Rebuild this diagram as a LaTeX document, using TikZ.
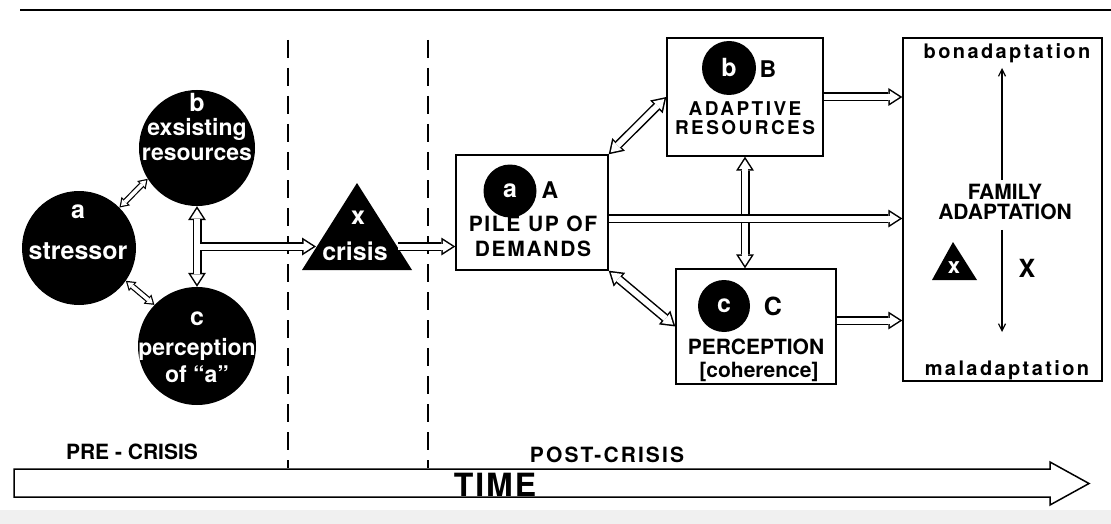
\documentclass[tikz,border=0pt]{standalone}
\usepackage{fontspec}
\setmainfont{TeX Gyre Heros}
\usetikzlibrary{arrows.meta,positioning,calc}

\newcommand{\fsz}[2]{\fontsize{#1}{#2}\selectfont}

\tikzset{
  hbig/.tip={Triangle[length=14pt,width=18pt,line width=0pt]},
  hbin/.tip={Triangle[length=9.7pt,width=12.5pt,line width=0pt]},
  hsm/.tip={Triangle[length=9pt,width=12pt,line width=0pt]},
  hsmin/.tip={Triangle[length=5.6pt,width=7.5pt,line width=0pt]},
  hollow/.style={line width=9pt, -{hbig},
    postaction={draw=white, line width=6pt, shorten >=2.8pt, -{hbin}}},
  hollowtwo/.style={line width=9pt, {hbig}-{hbig},
    postaction={draw=white, line width=6pt, shorten >=2.8pt, shorten <=2.8pt, {hbin}-{hbin}}},
  hollowsm/.style={line width=6pt, {hsm}-{hsm},
    postaction={draw=white, line width=3.6pt, shorten >=2.2pt, shorten <=2.2pt, {hsmin}-{hsmin}}},
  thinar/.style={line width=1.2pt, -{Straight Barb[length=7pt,width=7pt]}},
  period/.style={line width=1.6pt, dash pattern=on 18pt off 10pt},
  ball/.style={circle, fill=black, inner sep=0pt},
  box/.style={draw, line width=1.4pt, inner sep=0pt},
  wtxt/.style={text=white, inner sep=0pt, font=\bfseries\fsz{#1}{#1}},
  wtxt/.default=23,
  btxt/.style={inner sep=0pt, align=center, font=\bfseries\fsz{#1}{#1}},
  btxt/.default=21,
}

\begin{document}
\begin{tikzpicture}[x=1pt, y=-1pt]
\useasboundingbox (0,0) rectangle (1111,524);
% scan edge and top rule
\fill[gray!12] (0,510) rectangle (1111,524);
\draw[line width=1.2pt] (20,10) -- (1111,10);
% crisis period borders
\draw[period] (288,40) -- (288,468);
\draw[period] (428,40) -- (428,468);

% pre-crisis circles
\node[ball, minimum size=114pt] (stress) at (79,248) {};
\node[ball, minimum size=116pt] (exres) at (197,148) {};
\node[ball, minimum size=118pt] (perc) at (197,346) {};
\node[wtxt=25] (stressa) at (78,212) {a};
\node[wtxt=25] (stressl) at (78,251) {stressor};
\node[wtxt=25] (exresb) at (197,103) {b};
\node[wtxt] (exresl) at (197,129) {exsisting};
\node[wtxt] (exresm) at (197,154) {resources};
\node[wtxt=25] (percc) at (197,319) {c};
\node[wtxt] (percl) at (197,349) {perception};
\node[wtxt] (percm) at (197,374) {of “a”};

% crisis triangle
\coordinate (crtop) at (357,183);
\fill (crtop) -- (412,270) -- (302,270) -- cycle;
\node[wtxt=25] (crisx) at (358,218) {x};
\node[wtxt=25] (crisl) at (355,251) {crisis};

% post-crisis boxes
\node[box, minimum width=152pt, minimum height=115pt] (pile) at (532,212.5) {};
\node[ball, wtxt=25, minimum size=53pt] (pilea) at (510,191) {a};
\node[btxt=23] (pileA) at (550,190) {A};
\node[btxt, font=\bfseries\fsz{21}{25}\addfontfeatures{LetterSpace=8}] (pilel) at (533,236) {PILE UP OF\\DEMANDS};

\node[box, minimum width=156pt, minimum height=118pt] (adres) at (745,97) {};
\node[ball, wtxt=25, minimum size=54pt] (adresb) at (729,68) {b};
\node[btxt=23] (adresB) at (768,69) {B};
\node[btxt, font=\bfseries\fsz{19}{18.5}\addfontfeatures{LetterSpace=13}] (adresl) at (745,118) {ADAPTIVE\\RESOURCES};

\node[box, minimum width=160pt, minimum height=115pt] (cohere) at (756,326.5) {};
\node[ball, wtxt=25, minimum size=52pt] (coherec) at (724,306) {c};
\node[btxt=25] (cohereC) at (773,306) {C};
\node[btxt=21] (coherel) at (756,347) {PERCEPTION};
\node[btxt=21] (coherem) at (759,371.5) {[coherence]};

% family adaptation
\node[box, minimum width=199pt, minimum height=343pt] (famad) at (1002.5,209.5) {};
\node[btxt=20, font=\bfseries\fsz{20}{20}\addfontfeatures{LetterSpace=12}] (bona) at (1007,53) {bonadaptation};
\node[btxt=20, font=\bfseries\fsz{20}{20}\addfontfeatures{LetterSpace=12}] (mala) at (1007,370) {maladaptation};
\node[btxt, font=\bfseries\fsz{21}{20}] (famtxt) at (1005,202) {FAMILY\\ADAPTATION};
\fill (953,242) -- (977,280) -- (932,280) -- cycle;
\node[wtxt=22] (famx) at (954,268) {x};
\node[btxt=25] (famX) at (1027,268) {X};
\coordinate (bontip) at (1002,68);
\coordinate (maltip) at (1002,332);
\draw[thinar] ([yshift=4pt]famtxt.north -| bontip) -- (bontip);
\draw[thinar] ([yshift=-10pt]famtxt.south -| maltip) -- (maltip);

% pre-crisis links
\draw[hollowsm] (stress.45) -- (exres.212);
\draw[hollowsm] (stress.325) -- (perc.136);
\draw[hollowtwo] (exres.south) -- (perc.north);
\coordinate (tee) at ($(exres.south)!0.5!(perc.north)+(3,0)$);
\coordinate (crl) at (316,0 |- tee);
\coordinate (crr) at (398,0 |- tee);
\draw[hollow] (tee) -- (crl);
\draw[hollow] (crr) -- (crr -| pile.west);

% post-crisis links
\draw[hollowtwo] (pile.north east) -- (adres.west);
\draw[hollowtwo] (pile.south east) -- (cohere.west);
\draw[hollowtwo] (adres.south) -- (adres.south |- cohere.north);
\draw[hollow] ([yshift=-6pt]pile.east) -- ([yshift=-6pt]pile.east -| famad.west);
\draw[hollow] (adres.east) -- (adres.east -| famad.west);
\draw[hollow] ([yshift=6pt]cohere.east) -- ([yshift=6pt]cohere.east -| famad.west);

% time axis
\draw[line width=1.5pt] (14,469) -- (1050,469) -- (1050,462) -- (1089,483.5)
  -- (1050,505) -- (1050,497) -- (14,497) -- cycle;
\node[btxt=32, font=\bfseries\fsz{32}{32}\addfontfeatures{LetterSpace=6}] (time) at (495,485) {TIME};
\node[btxt] (pre) at (132,452) {PRE - CRISIS};
\node[btxt, font=\bfseries\fsz{21}{21}\addfontfeatures{LetterSpace=10}] (post) at (607,455) {POST-CRISIS};
\end{tikzpicture}
\end{document}
